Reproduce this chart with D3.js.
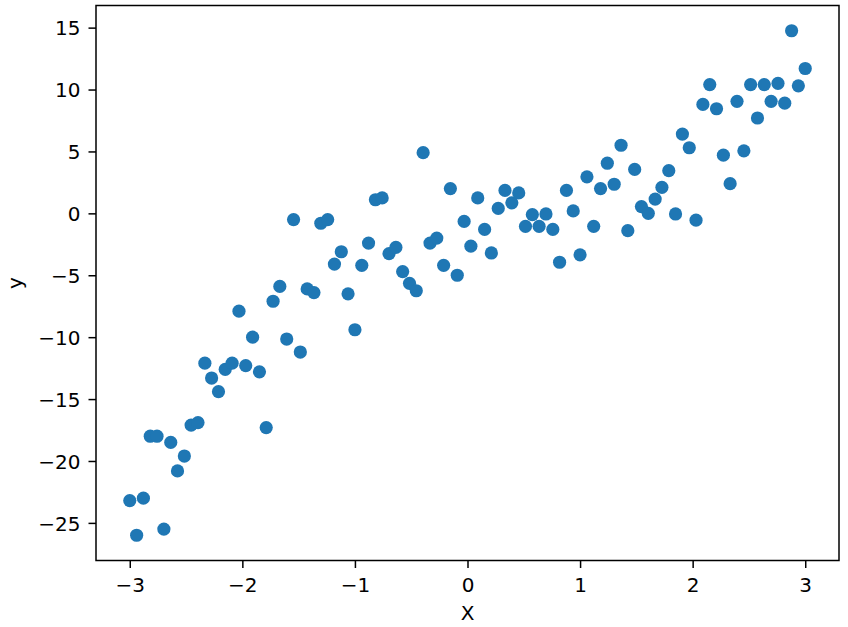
<!DOCTYPE html>
<html>
<head>
<meta charset="utf-8">
<script src="https://cdn.jsdelivr.net/npm/d3@7"></script>
<style>
  html, body { margin: 0; padding: 0; background: #fff; }
  svg text { font-family: "DejaVu Sans", sans-serif; fill: #000; }
</style>
</head>
<body>
<svg id="chart" width="848" height="627"></svg>
<script>
const xValues = [
  -3.000, -2.939, -2.879, -2.818, -2.758, -2.697, -2.636, -2.576, -2.515, -2.455,
  -2.394, -2.333, -2.273, -2.212, -2.152, -2.091, -2.030, -1.970, -1.909, -1.848,
  -1.788, -1.727, -1.667, -1.606, -1.545, -1.485, -1.424, -1.364, -1.303, -1.242,
  -1.182, -1.121, -1.061, -1.000, -0.939, -0.879, -0.818, -0.758, -0.697, -0.636,
  -0.576, -0.515, -0.455, -0.394, -0.333, -0.273, -0.212, -0.152, -0.091, -0.030,
   0.030,  0.091,  0.152,  0.212,  0.273,  0.333,  0.394,  0.455,  0.515,  0.576,
   0.636,  0.697,  0.758,  0.818,  0.879,  0.939,  1.000,  1.061,  1.121,  1.182,
   1.242,  1.303,  1.364,  1.424,  1.485,  1.545,  1.606,  1.667,  1.727,  1.788,
   1.848,  1.909,  1.970,  2.030,  2.091,  2.152,  2.212,  2.273,  2.333,  2.394,
   2.455,  2.515,  2.576,  2.636,  2.697,  2.758,  2.818,  2.879,  2.939,  3.000
];
const yValues = [
  -23.2, -26.0, -23.0, -18.0, -18.0, -25.5, -18.5, -20.8, -19.6, -17.1,
  -16.9, -12.1, -13.3, -14.4, -12.6, -12.1, -7.9, -12.3, -10.0, -12.8,
  -17.3, -7.1, -5.9, -10.15, -0.5, -11.2, -6.1, -6.4, -0.8, -0.5,
  -4.1, -3.1, -6.5, -9.4, -4.2, -2.4, 1.1, 1.25, -3.25, -2.75,
  -4.7, -5.65, -6.25, 4.9, -2.4, -2.0, -4.2, 2.0, -5.0, -0.65,
  -2.65, 1.25, -1.3, -3.2, 0.4, 1.85, 0.85, 1.65, -1.05, -0.1,
  -1.05, -0.05, -1.3, -3.95, 1.85, 0.2, -3.35, 2.95, -1.05, 2.0,
  4.05, 2.35, 5.5, -1.4, 3.55, 0.55, 0.0, 1.15, 2.1, 3.45,
  -0.05, 6.4, 5.3, -0.55, 8.8, 10.4, 8.45, 4.7, 2.4, 9.05,
  5.05, 10.4, 7.7, 10.4, 9.05, 10.5, 8.9, 14.75, 10.3, 11.7
];
const xTicks = [-3, -2, -1, 0, 1, 2, 3];
const yTicks = [-25, -20, -15, -10, -5, 0, 5, 10, 15];
const xLabel = "X";
const yLabel = "y";

(function () {
const svg = d3.select("#chart");
const mLeft = 96, mRight = 839, mTop = 5.5, mBottom = 560.5;
const fontSize = 20;
const tickLen = 7.5;

const points = xValues.map((x, i) => ({ x, y: yValues[i] }));

const xExt = d3.extent(xValues), yExt = d3.extent(yValues);
const xPad = (xExt[1] - xExt[0]) * 0.05, yPad = (yExt[1] - yExt[0]) * 0.05;
const x = d3.scaleLinear().domain([xExt[0] - xPad, xExt[1] + xPad]).range([mLeft, mRight]);
const y = d3.scaleLinear().domain([yExt[0] - yPad, yExt[1] + yPad]).range([mBottom, mTop]);

svg.append("g")
  .selectAll("circle")
  .data(points)
  .join("circle")
  .attr("cx", d => x(d.x))
  .attr("cy", d => y(d.y))
  .attr("r", 6.6)
  .attr("fill", "#1f77b4");

const fmt = d => d3.format("d")(d).replace("-", "\u2212");
const xAxis = svg.append("g")
  .attr("transform", `translate(0,${mBottom})`)
  .call(d3.axisBottom(x).tickValues(xTicks).tickSize(tickLen).tickPadding(7).tickFormat(fmt));
const yAxis = svg.append("g")
  .attr("transform", `translate(${mLeft},0)`)
  .call(d3.axisLeft(y).tickValues(yTicks).tickSize(tickLen).tickPadding(8).tickFormat(fmt));

[xAxis, yAxis].forEach(g => {
  g.select(".domain").remove();
  g.selectAll(".tick line").attr("stroke", "#000").attr("stroke-width", 1.5);
  g.selectAll(".tick text").attr("font-size", fontSize).attr("font-family", "DejaVu Sans").attr("fill", "#000");
});
xAxis.selectAll(".tick text").attr("y", 31).attr("dy", 0);
yAxis.selectAll(".tick text").attr("dy", "0.36em");

svg.append("rect")
  .attr("x", mLeft).attr("y", mTop)
  .attr("width", mRight - mLeft).attr("height", mBottom - mTop)
  .attr("fill", "none").attr("stroke", "#000").attr("stroke-width", 1.5);

svg.append("text")
  .attr("x", (mLeft + mRight) / 2).attr("y", 620)
  .attr("text-anchor", "middle")
  .attr("font-size", fontSize)
  .text(xLabel);

svg.append("text")
  .attr("transform", `translate(22,${(mTop + mBottom) / 2}) rotate(-90)`)
  .attr("text-anchor", "middle")
  .attr("font-size", fontSize)
  .text(yLabel);
})();
</script>
</body>
</html>
